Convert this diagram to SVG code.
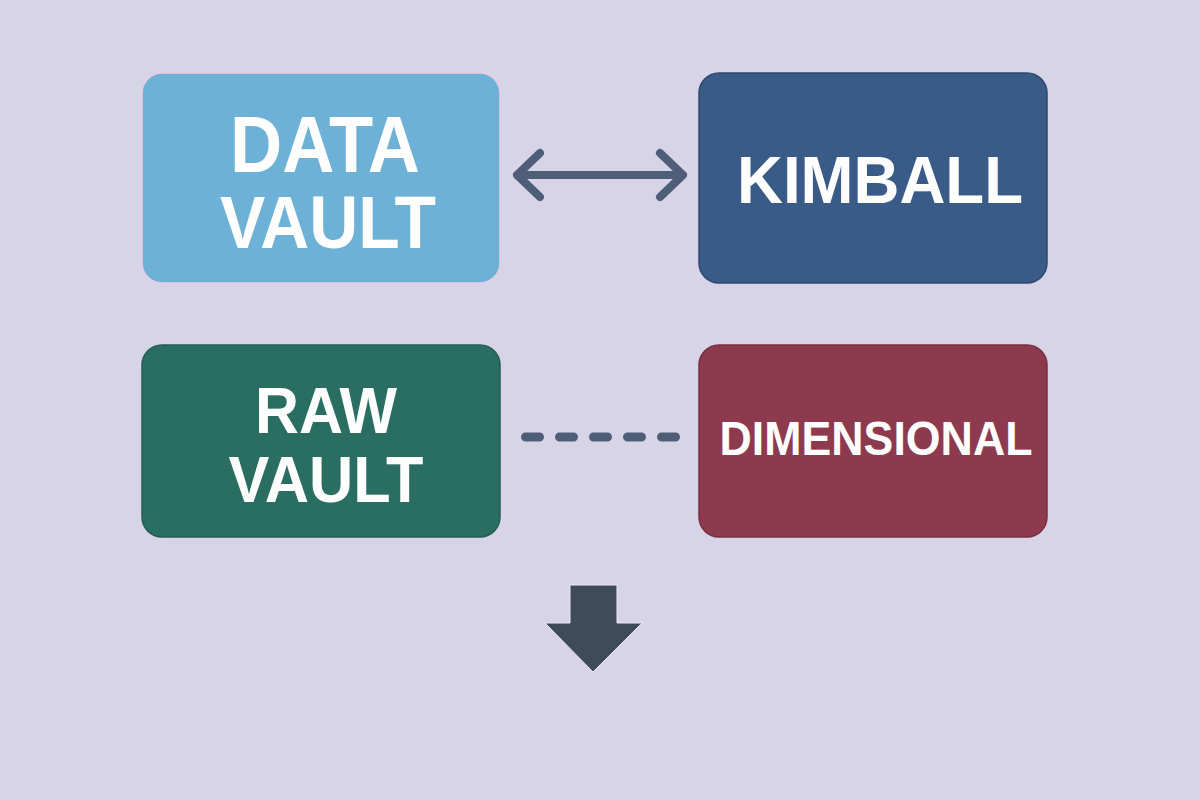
<svg xmlns="http://www.w3.org/2000/svg" width="1200" height="800" viewBox="0 0 1200 800">
<style>
.lbl{font-family:"Liberation Sans",Arial,sans-serif;font-weight:bold;fill:#ffffff}
.box{stroke-width:1.5}
.conn{fill:none;stroke:#4f5e78;stroke-linecap:round;stroke-linejoin:round}
</style>
<rect width="1200" height="800" fill="#d8d4e7"/>
<g id="data-vault">
<rect class="box" x="142" y="73" width="358" height="210" rx="20" fill="#6eb1d6" stroke="#e7cde3"/>
<text class="lbl" x="325" y="172" font-size="79" text-anchor="middle" textLength="190" lengthAdjust="spacingAndGlyphs">DATA</text>
<text class="lbl" x="328" y="248" font-size="74" text-anchor="middle" textLength="216" lengthAdjust="spacingAndGlyphs">VAULT</text>
</g>
<g id="kimball">
<rect class="box" x="699" y="73" width="348" height="210" rx="20" fill="#3a5b87" stroke="#2f4a70"/>
<text class="lbl" x="880" y="203" font-size="67" text-anchor="middle" textLength="286" lengthAdjust="spacingAndGlyphs">KIMBALL</text>
</g>
<g id="raw-vault">
<rect class="box" x="142" y="345" width="358" height="192" rx="20" fill="#2a6e62" stroke="#245e54"/>
<text class="lbl" x="326" y="433" font-size="64" text-anchor="middle" textLength="142" lengthAdjust="spacingAndGlyphs">RAW</text>
<text class="lbl" x="326" y="502" font-size="65" text-anchor="middle" textLength="195" lengthAdjust="spacingAndGlyphs">VAULT</text>
</g>
<g id="dimensional">
<rect class="box" x="699" y="345" width="348" height="192" rx="20" fill="#8e3a4e" stroke="#7a2f42"/>
<text class="lbl" x="876" y="455" font-size="49" text-anchor="middle" textLength="313" lengthAdjust="spacingAndGlyphs">DIMENSIONAL</text>
</g>
<g id="connectors">
<path class="conn" stroke-width="8" d="M517 175 H683 M540 153 L517 175 L540 197 M660 153 L683 175 L660 197"/>
<path class="conn" stroke-width="9" stroke-dasharray="14 20" d="M525.5 437 H676"/>
<path fill="#3f4a5b" stroke="#eeeaf5" stroke-width="1" stroke-linejoin="round" d="M570 585 H617 V623 H642 L593 672 L545 623 H570 Z"/>
</g>
</svg>
